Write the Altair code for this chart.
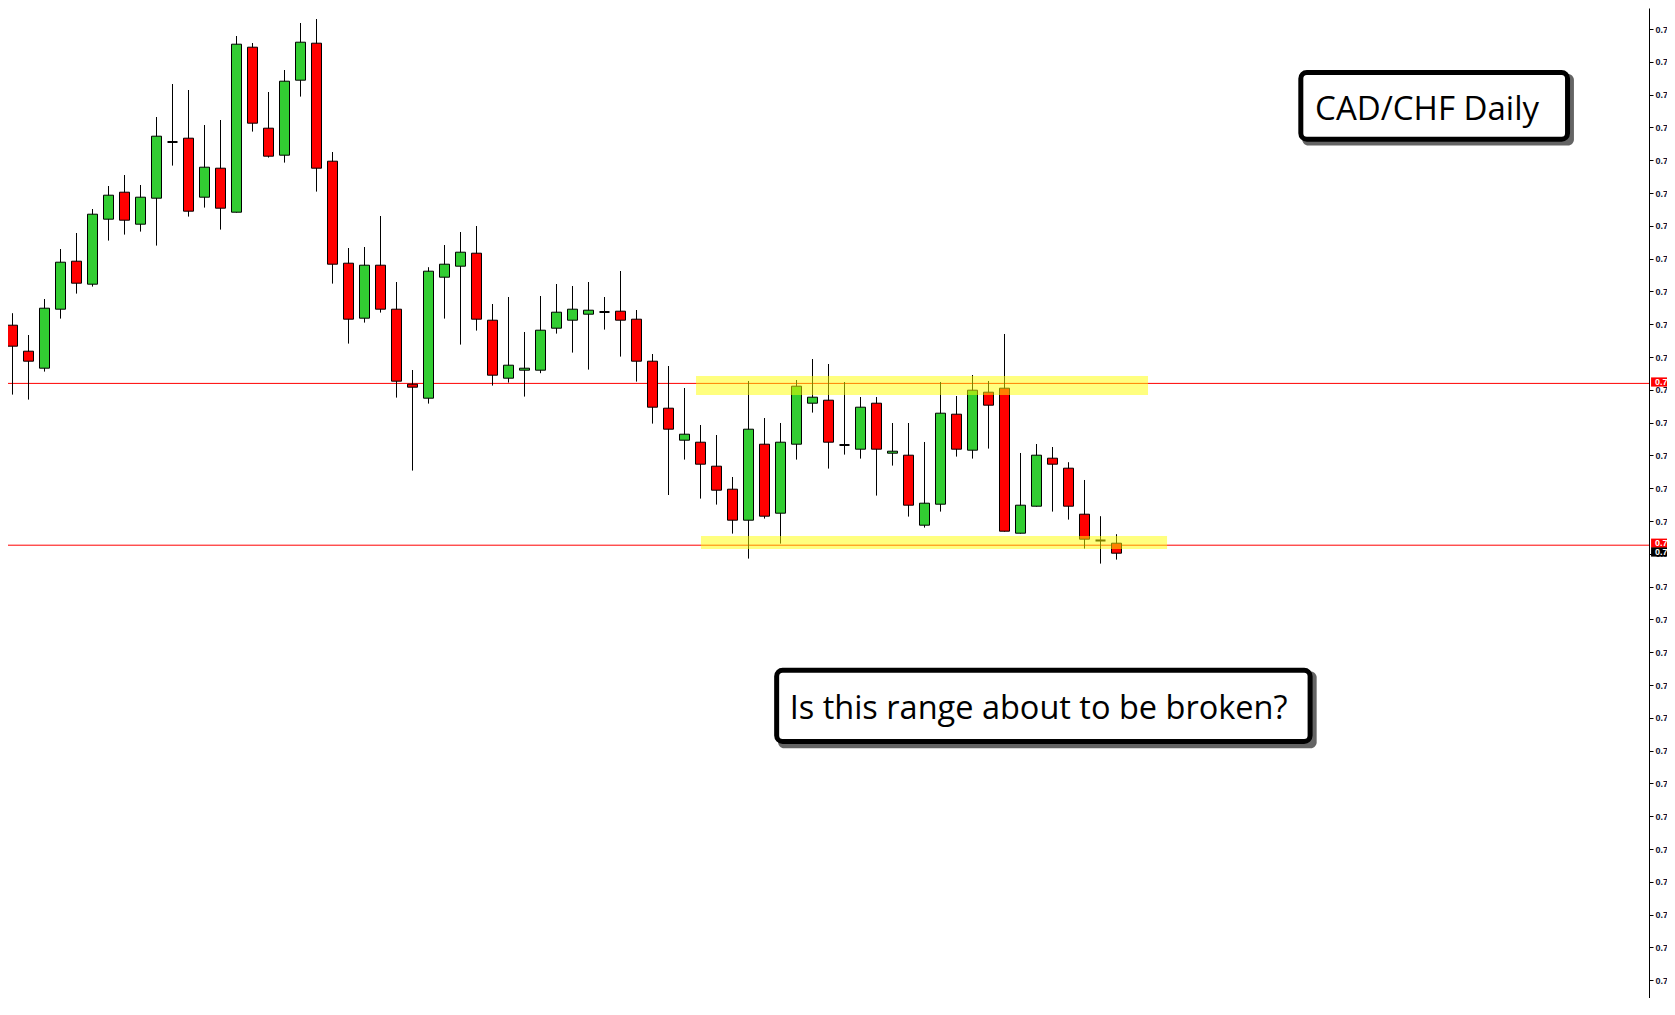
import altair as alt
import pandas as pd

# ---- candle data (daily, CAD/CHF) ----
day = list(range(70))
opens = [0.78374, 0.78244, 0.78159, 0.78454, 0.78694, 0.78579, 0.78904, 0.79039, 0.78879, 0.79009,
         0.79290, 0.79309, 0.79014, 0.79159, 0.78939, 0.79764, 0.79359, 0.79224, 0.79599, 0.79784,
         0.79194, 0.78684, 0.78409, 0.78674, 0.78454, 0.78079, 0.78009, 0.78614, 0.78669, 0.78734,
         0.78399, 0.78109, 0.78149, 0.78149, 0.78359, 0.78399, 0.78429, 0.78440, 0.78444, 0.78404,
         0.78194, 0.77959, 0.77799, 0.77789, 0.77669, 0.77554, 0.77399, 0.77779, 0.77434, 0.77779,
         0.77984, 0.77999, 0.77775, 0.77754, 0.77984, 0.77734, 0.77724, 0.77374, 0.77479, 0.77929,
         0.77749, 0.78039, 0.78059, 0.77334, 0.77469, 0.77709, 0.77659, 0.77429, 0.77297, 0.77284]
highs = [0.78434, 0.78325, 0.78505, 0.78755, 0.78835, 0.78955, 0.79070, 0.79125, 0.79075, 0.79415,
         0.79580, 0.79550, 0.79375, 0.79400, 0.79820, 0.79785, 0.79540, 0.79650, 0.79885, 0.79905,
         0.79240, 0.78760, 0.78765, 0.78920, 0.78590, 0.78150, 0.78664, 0.78775, 0.78840, 0.78870,
         0.78480, 0.78515, 0.78340, 0.78520, 0.78580, 0.78570, 0.78590, 0.78515, 0.78645, 0.78450,
         0.78230, 0.78170, 0.78060, 0.77875, 0.77825, 0.77615, 0.78095, 0.77910, 0.77885, 0.78100,
         0.78205, 0.78180, 0.78090, 0.78015, 0.78015, 0.77885, 0.77885, 0.77790, 0.78090, 0.78020,
         0.78125, 0.78095, 0.78330, 0.77735, 0.77780, 0.77765, 0.77689, 0.77600, 0.77419, 0.77329]
lows = [0.78027, 0.78002, 0.78142, 0.78407, 0.78532, 0.78567, 0.78797, 0.78827, 0.78842, 0.78772,
        0.79172, 0.78917, 0.78962, 0.78852, 0.78937, 0.79342, 0.79212, 0.79187, 0.79517, 0.79042,
        0.78582, 0.78282, 0.78387, 0.78437, 0.78012, 0.77647, 0.77982, 0.78407, 0.78277, 0.78347,
        0.78072, 0.78087, 0.78017, 0.78134, 0.78332, 0.78237, 0.78152, 0.78352, 0.78217, 0.78092,
        0.77882, 0.77525, 0.77702, 0.77507, 0.77477, 0.77332, 0.77207, 0.77407, 0.77282, 0.77702,
        0.77937, 0.77657, 0.77727, 0.77707, 0.77522, 0.77672, 0.77417, 0.77362, 0.77442, 0.77717,
        0.77707, 0.77757, 0.77342, 0.77332, 0.77467, 0.77442, 0.77402, 0.77257, 0.77182, 0.77202]
closes = [0.78269, 0.78194, 0.78459, 0.78689, 0.78584, 0.78929, 0.79024, 0.78899, 0.79014, 0.79319,
          0.79290, 0.78944, 0.79164, 0.78959, 0.79779, 0.79384, 0.79219, 0.79594, 0.79789, 0.79159,
          0.78679, 0.78404, 0.78674, 0.78454, 0.78094, 0.78064, 0.78644, 0.78679, 0.78739, 0.78404,
          0.78124, 0.78174, 0.78159, 0.78349, 0.78439, 0.78454, 0.78449, 0.78440, 0.78399, 0.78194,
          0.77964, 0.77854, 0.77829, 0.77679, 0.77549, 0.77399, 0.77854, 0.77419, 0.77789, 0.78069,
          0.78014, 0.77789, 0.77775, 0.77964, 0.77754, 0.77744, 0.77474, 0.77484, 0.77934, 0.77754,
          0.78049, 0.77974, 0.77344, 0.77474, 0.77724, 0.77679, 0.77469, 0.77304, 0.77297, 0.77234]

# horizontal levels
range_levels = [0.78083, 0.77274]
last_price = 0.77234

# right axis tick values
tick_values = [0.79855, 0.79691, 0.79527, 0.79363, 0.79199, 0.79035, 0.78871, 0.78707, 0.78543, 0.78379,
               0.78215, 0.78051, 0.77887, 0.77723, 0.77559, 0.77395, 0.77231, 0.77067, 0.76903, 0.76739,
               0.76575, 0.76411, 0.76247, 0.76083, 0.75919, 0.75755, 0.75591, 0.75427, 0.75263, 0.75099]

# yellow range zones (day index / price)
zone_x = [42.72, 43.03]
zone_x2 = [70.97, 72.16]
zone_y = [0.78120, 0.77320]
zone_y2 = [0.78025, 0.77255]

# annotation boxes
box_x = [80.52, 47.76]
box_x2 = [97.19, 81.10]
box_y = [0.79638, 0.76649]
box_y2 = [0.79304, 0.76292]
shadow_x = [80.61, 47.85]
shadow_x2 = [97.59, 81.51]
shadow_y = [0.79630, 0.76642]
shadow_y2 = [0.79272, 0.76259]
note_x = [88.41, 64.13]
note_y = [0.79400, 0.76405]
note_size = [33, 32.5]
note_text = ["CAD/CHF Daily", "Is this range about to be broken?"]

# price tags on the axis
tag_level = [range_levels[0], range_levels[1], last_price]
tag_center = [0.78090, 0.77284, 0.77240]
tag_color = ["#ff0000", "#ff0000", "#000000"]

df = pd.DataFrame({"day": day, "open": opens, "high": highs, "low": lows, "close": closes})
levels_df = pd.DataFrame({"level": range_levels})
zones_df = pd.DataFrame({"x": zone_x, "x2": zone_x2, "y": zone_y, "y2": zone_y2})
boxes_df = pd.DataFrame({"x": box_x, "x2": box_x2, "y": box_y, "y2": box_y2})
shadows_df = pd.DataFrame({"x": shadow_x, "x2": shadow_x2, "y": shadow_y, "y2": shadow_y2})
notes_df = pd.DataFrame({"x": note_x, "y": note_y, "text": note_text, "size": note_size})
tags_df = pd.DataFrame({
    "center": tag_center,
    "top": [c + 0.00023 for c in tag_center],
    "bottom": [c - 0.00023 for c in tag_center],
    "color": tag_color,
    "label": [f"{v:.5f}"[:3] for v in tag_level],
    "x": [102.41] * 3,
    "x2": [104.0] * 3,
    "tx": [102.66] * 3,
})

xs = alt.Scale(domain=[-0.28125, 102.28125], nice=False, zero=False, padding=0)
ys = alt.Scale(domain=[0.7501, 0.7996], nice=False, zero=False, padding=0)

yaxis = alt.Axis(orient="right", values=tick_values, format=".5f",
                 labelExpr="slice(datum.label, 0, 3)", title=None,
                 domainColor="black", domainWidth=1, tickColor="black", tickSize=4,
                 labelFont="Liberation Sans", labelFontWeight="bold", labelFontSize=9,
                 labelColor="#111133", labelPadding=2, labelOverlap=False, grid=False,
                 labelBaseline="middle")

lines = alt.Chart(levels_df).mark_rule(color="#ff0000", strokeWidth=1).encode(
    y=alt.Y("level:Q", scale=ys, axis=yaxis)
)

wicks = alt.Chart(df).mark_rule(color="black", strokeWidth=1).encode(
    x=alt.X("day:Q", scale=xs, axis=None),
    y=alt.Y("low:Q", scale=ys, axis=None),
    y2="high:Q",
)

bodies = alt.Chart(df).mark_bar(size=10, stroke="black").encode(
    x=alt.X("day:Q", scale=xs, axis=None),
    y=alt.Y("open:Q", scale=ys, axis=None),
    y2="close:Q",
    color=alt.condition("datum.close > datum.open", alt.value("#32cd32"), alt.value("#ff0000")),
    strokeWidth=alt.condition("datum.open == datum.close", alt.value(2), alt.value(1)),
)

zones = alt.Chart(zones_df).mark_rect(color="#ffff00", opacity=0.5).encode(
    x=alt.X("x:Q", scale=xs, axis=None), x2="x2:Q",
    y=alt.Y("y:Q", scale=ys, axis=None), y2="y2:Q",
)

shadows = alt.Chart(shadows_df).mark_rect(color="#222222", opacity=0.7, cornerRadius=6).encode(
    x=alt.X("x:Q", scale=xs, axis=None), x2="x2:Q",
    y=alt.Y("y:Q", scale=ys, axis=None), y2="y2:Q",
)

boxes = alt.Chart(boxes_df).mark_rect(fill="white", stroke="black", strokeWidth=5, cornerRadius=6).encode(
    x=alt.X("x:Q", scale=xs, axis=None), x2="x2:Q",
    y=alt.Y("y:Q", scale=ys, axis=None), y2="y2:Q",
)

notes = alt.Chart(notes_df).mark_text(font="Open Sans", color="black",
                                      align="center", baseline="alphabetic").encode(
    x=alt.X("x:Q", scale=xs, axis=None),
    y=alt.Y("y:Q", scale=ys, axis=None),
    text="text:N",
    size=alt.Size("size:Q", scale=None, legend=None),
)

tags = alt.Chart(tags_df).mark_rect().encode(
    x=alt.X("x:Q", scale=xs, axis=None), x2="x2:Q",
    y=alt.Y("top:Q", scale=ys, axis=None), y2="bottom:Q",
    color=alt.Color("color:N", scale=None),
)

tag_text = alt.Chart(tags_df).mark_text(font="Liberation Sans", fontWeight="bold", fontSize=9,
                                        color="white", align="left", baseline="middle").encode(
    x=alt.X("tx:Q", scale=xs, axis=None),
    y=alt.Y("center:Q", scale=ys, axis=None),
    text="label:N",
)

chart = alt.layer(lines, wicks, bodies, zones, shadows, boxes, notes, tags, tag_text).properties(
    width=1641, height=990,
    autosize=alt.AutoSizeParams(type="none"),
    padding={"left": 0, "top": 0, "right": 18, "bottom": 0},
).resolve_axis(x="independent", y="independent").configure_view(strokeWidth=0)

chart.save("out.html", embed_options={"renderer": "svg", "actions": False})
